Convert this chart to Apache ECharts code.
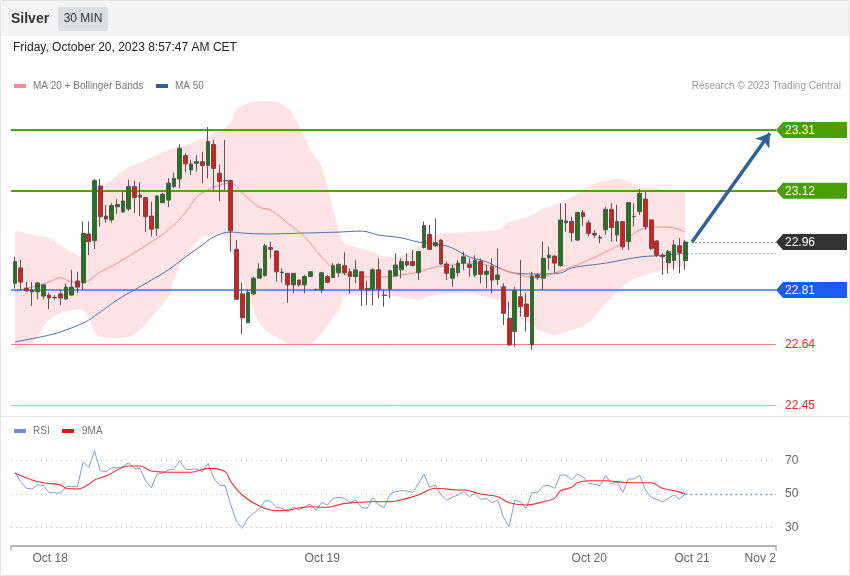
<!DOCTYPE html>
<html>
<head>
<meta charset="utf-8">
<script src="https://cdn.jsdelivr.net/npm/echarts@6/dist/echarts.min.js"></script>
<style>
html,body{margin:0;padding:0;background:#fff;}
#c{width:850px;height:576px;}
</style>
</head>
<body>
<div id="c"></div>
<script>
// ---------- DATA ----------
const candleOpen = [22.831,22.879,22.816,22.810,22.804,22.791,22.794,22.786,22.798,22.782,22.794,22.838,22.832,22.985,22.964,23.135,23.041,23.029,23.070,23.054,23.063,23.133,23.100,23.099,23.041,23.003,23.083,23.091,23.133,23.157,23.230,23.185,23.206,23.211,23.199,23.265,23.175,23.152,23.152,22.937,22.798,22.708,22.798,22.847,22.855,22.943,22.932,22.866,22.862,22.826,22.841,22.826,22.852,22.812,22.810,22.852,22.849,22.864,22.886,22.867,22.852,22.867,22.815,22.812,22.873,22.794,22.813,22.854,22.873,22.899,22.899,22.864,22.943,22.984,22.948,22.966,22.891,22.847,22.864,22.894,22.890,22.857,22.899,22.859,22.883,22.843,22.820,22.722,22.680,22.789,22.766,22.638,22.857,22.847,22.911,22.916,22.886,23.026,23.024,22.966,23.052,23.020,22.987,22.972,22.998,23.062,22.982,23.024,22.961,23.039,23.055,23.094,23.029,22.963,22.919,22.895,22.902,22.948,22.902];
const candleClose = [22.899,22.835,22.807,22.804,22.832,22.826,22.785,22.787,22.785,22.819,22.819,22.819,22.987,22.961,23.152,23.039,23.032,23.074,23.077,23.088,23.133,23.099,23.106,23.039,23.000,23.104,23.109,23.144,23.159,23.253,23.204,23.204,23.211,23.199,23.274,23.190,23.149,23.151,22.995,22.781,22.723,22.802,22.847,22.876,22.948,22.937,22.867,22.864,22.826,22.862,22.826,22.852,22.867,22.811,22.864,22.834,22.886,22.890,22.864,22.852,22.873,22.812,22.810,22.873,22.812,22.793,22.870,22.888,22.899,22.888,22.886,22.930,23.011,22.937,22.958,22.891,22.862,22.878,22.894,22.914,22.880,22.902,22.859,22.869,22.841,22.857,22.737,22.638,22.808,22.758,22.727,22.854,22.850,22.909,22.919,22.894,23.029,23.020,22.989,23.052,23.039,22.987,22.982,22.975,23.062,23.005,23.024,22.945,23.083,23.040,23.112,23.008,22.940,22.919,22.914,22.930,22.951,22.927,22.960];
const candleLow = [22.815,22.810,22.805,22.760,22.781,22.781,22.750,22.779,22.763,22.779,22.792,22.800,22.810,22.919,22.938,23.008,23.020,23.020,23.048,23.052,23.057,23.050,23.041,22.992,22.977,22.979,23.081,23.069,23.128,23.128,23.177,23.169,23.180,23.144,23.159,23.123,23.088,23.123,22.930,22.779,22.672,22.706,22.794,22.846,22.852,22.909,22.836,22.833,22.770,22.800,22.820,22.800,22.851,22.809,22.800,22.831,22.847,22.850,22.857,22.798,22.831,22.760,22.763,22.763,22.784,22.758,22.784,22.852,22.847,22.883,22.885,22.841,22.940,22.936,22.945,22.888,22.841,22.820,22.852,22.873,22.852,22.850,22.831,22.815,22.800,22.826,22.701,22.636,22.633,22.727,22.680,22.623,22.841,22.810,22.873,22.862,22.883,22.992,22.961,22.963,23.010,22.977,22.972,22.956,22.982,22.961,22.961,22.935,22.935,23.008,23.045,22.998,22.935,22.914,22.857,22.862,22.873,22.862,22.873];
const candleHigh = [22.914,22.904,22.836,22.835,22.835,22.828,22.802,22.794,22.810,22.831,22.873,22.867,23.024,23.024,23.157,23.157,23.076,23.081,23.094,23.117,23.154,23.152,23.147,23.100,23.086,23.106,23.114,23.159,23.177,23.265,23.237,23.216,23.232,23.242,23.319,23.279,23.201,23.279,23.155,22.966,22.833,22.812,22.852,22.894,22.954,22.961,22.933,22.878,22.863,22.863,22.842,22.857,22.868,22.814,22.867,22.857,22.894,22.894,22.928,22.878,22.904,22.868,22.839,22.878,22.909,22.810,22.873,22.925,22.909,22.925,22.935,22.931,23.024,23.013,23.034,22.969,22.899,22.888,22.904,22.930,22.909,22.919,22.909,22.888,22.909,22.940,22.831,22.774,22.820,22.904,22.800,22.867,22.862,22.961,22.945,22.919,23.081,23.081,23.039,23.055,23.060,23.029,22.998,22.982,23.070,23.081,23.076,23.025,23.086,23.081,23.125,23.117,23.030,22.966,22.925,22.935,22.966,22.972,22.966];

const bandIdx   = [0,3,6,8,10,12,13,14,15,17,20,22,24,27,28,30,33,35,36,37,38,39,41,43,44,46,48,49,51,52,54,57,58,62,65,68,71,74,80,83,85,86,87,89,91,92,93,95,98,101,103,104,106,108,110,113,116,118];
const bandUpper = [22.988,22.982,22.973,22.951,22.929,22.916,22.966,23.054,23.123,23.154,23.194,23.207,23.223,23.248,23.254,23.263,23.282,23.301,23.307,23.316,23.335,23.373,23.394,23.401,23.401,23.398,23.379,23.357,23.288,23.248,23.194,22.998,22.957,22.935,22.916,22.916,22.944,22.982,22.991,22.994,22.998,23.010,23.023,23.032,23.044,23.054,23.066,23.076,23.101,23.132,23.148,23.151,23.157,23.148,23.132,23.129,23.119,23.113];
const bandLower = [22.622,22.644,22.716,22.738,22.747,22.747,22.722,22.679,22.663,22.660,22.663,22.685,22.726,22.788,22.841,22.919,22.976,22.988,22.991,22.976,22.935,22.894,22.788,22.707,22.685,22.663,22.644,22.638,22.638,22.638,22.676,22.747,22.788,22.794,22.791,22.788,22.779,22.794,22.801,22.788,22.779,22.773,22.747,22.722,22.701,22.685,22.679,22.669,22.685,22.707,22.747,22.769,22.804,22.835,22.851,22.866,22.879,22.888];

const ma20Idx = [0,3,6,8,10,12,15,18,21,24,27,30,32,34,35,38,40,43,45,48,51,54,57,59,62,65,68,71,74,77,80,83,86,89,92,95,98,101,104,107,110,113,116,118];
const ma20Val = [22.805,22.819,22.835,22.848,22.835,22.835,22.866,22.894,22.926,22.960,22.998,23.051,23.101,23.123,23.132,23.144,23.113,23.069,23.060,23.019,22.976,22.913,22.866,22.857,22.851,22.851,22.857,22.866,22.882,22.888,22.894,22.888,22.873,22.857,22.848,22.863,22.882,22.904,22.929,22.957,22.998,23.007,23.004,22.991];

const ma50Idx = [0,6,9,12,13,15,18,21,24,27,30,33,35,38,40,44,51,57,61,64,68,71,75,77,80,83,86,88,92,96,98,104,110,115,118];
const ma50Val = [22.648,22.669,22.685,22.707,22.716,22.741,22.779,22.810,22.841,22.873,22.913,22.951,22.976,22.991,22.988,22.985,22.988,22.991,22.994,22.982,22.973,22.960,22.951,22.941,22.913,22.898,22.873,22.863,22.860,22.863,22.879,22.894,22.913,22.919,22.926];

const rsiVal = [63.0,57.3,53.4,53.0,55.4,55.0,50.8,50.8,50.4,54.4,54.4,54.4,69.3,65.9,75.7,63.9,63.3,65.7,65.7,66.3,68.7,65.3,65.3,57.8,53.8,61.8,62.4,64.3,64.9,69.9,64.7,64.7,64.9,63.3,68.3,59.4,55.4,55.0,43.4,33.5,29.5,35.5,38.5,40.9,46.0,45.8,42.1,41.5,39.4,42.2,40.4,42.4,43.9,40.4,45.0,43.4,47.4,48.0,47.4,45.0,46.4,41.8,41.5,47.8,43.4,42.1,50.0,51.4,52.0,51.8,51.0,56.0,61.9,54.0,55.4,49.4,46.4,48.0,49.4,51.4,48.4,50.4,46.8,47.4,44.8,46.4,36.1,30.5,46.4,45.2,41.5,50.8,50.8,54.8,55.1,53.4,61.3,61.3,58.4,61.9,60.3,56.4,55.8,55.0,60.9,56.0,57.3,50.8,59.0,59.0,60.9,52.4,48.0,46.8,45.4,47.4,49.4,47.0,50.0];
const rsiMaIdx = [0,3,5,8,9,11,13,14,16,20,22,24,27,31,34,37,38,40,43,46,48,50,52,55,58,63,66,69,71,74,78,79,82,85,87,90,93,95,96,98,99,101,104,107,109,112,114,116,118];
const rsiMaVal = [62.4,58.4,56.7,55.4,53.4,53.0,55.8,58.4,60.7,66.7,66.7,63.7,63.0,63.0,65.3,63.3,57.3,49.4,42.8,40.0,40.4,41.6,42.4,42.1,44.4,45.4,45.4,47.4,49.4,53.4,52.4,52.4,50.0,48.4,44.8,43.4,45.4,47.4,51.8,54.0,56.7,57.9,57.9,57.0,56.7,56.7,53.4,52.0,50.0];

const levelValues = [23.31, 23.12, 22.96, 22.81, 22.64, 22.45];
const levelLabels = ['23.31', '23.12', '22.96', '22.81', '22.64', '22.45'];
const rsiLevels = [70, 50, 30];
const xTickLabels = ['Oct 18', 'Oct 19', 'Oct 20', 'Oct 21', 'Nov 2'];
const xTickPos = [6.2, 54.1, 101.1, 119.2, 131.2];
const arrowStart = [119.2, 22.96];
const arrowEnd = [132.9, 23.30];

// ---------- BUILD ----------
const FONT = 'Liberation Sans, Arial, sans-serif';
const X_MIN = -0.704, X_MAX = 133.98;
const lastIdx = candleOpen.length - 1;
const pairs = (idx, vals) => idx.map((i, k) => [i, vals[k]]);
const candles = candleOpen.map((o, i) => [i, o, candleClose[i], candleLow[i], candleHigh[i]]);
const rsiData = rsiVal.map((v, i) => [i, v]);
const ma50Last = ma50Val[ma50Val.length - 1];

const chart = echarts.init(document.getElementById('c'), null, {renderer: 'canvas'});

const option = {
  animation: false,
  backgroundColor: '#ffffff',
  textStyle: {fontFamily: FONT},
  grid: [
    {left: 11, width: 765, top: 53.2, height: 358.4},
    {left: 11, width: 765, top: 443.75, height: 102.25}
  ],
  xAxis: [
    {type: 'value', gridIndex: 0, min: X_MIN, max: X_MAX, show: false},
    {type: 'value', gridIndex: 1, min: X_MIN, max: X_MAX,
      axisLine: {show: true, lineStyle: {color: '#b5b5b5', width: 2}},
      axisTick: {show: true, customValues: [X_MIN, X_MAX], length: 5, lineStyle: {color: '#b5b5b5', width: 1.5}},
      axisLabel: {show: true, customValues: xTickPos, color: '#666', fontSize: 12, margin: 7, fontFamily: FONT,
        formatter: function (v) {
          for (let k = 0; k < xTickPos.length; k++) if (Math.abs(xTickPos[k] - v) < 1e-6) return xTickLabels[k];
          return '';
        }},
      splitLine: {show: false}
    }
  ],
  yAxis: [
    {type: 'value', gridIndex: 0, min: 22.43, max: 23.55, show: false, scale: true},
    {type: 'value', gridIndex: 1, min: 18.96, max: 80, show: false}
  ],
  series: [
    {
      name: 'Bollinger', type: 'custom', xAxisIndex: 0, yAxisIndex: 0, z: 1, silent: true,
      data: [[bandIdx[0], bandUpper[0]]],
      renderItem: function (params, api) {
        const pts = [];
        for (let k = 0; k < bandIdx.length; k++) pts.push(api.coord([bandIdx[k], bandUpper[k]]));
        for (let k = bandIdx.length - 1; k >= 0; k--) pts.push(api.coord([bandIdx[k], bandLower[k]]));
        let minX = Infinity, minY = Infinity, maxX = -Infinity, maxY = -Infinity;
        pts.forEach(p => { minX = Math.min(minX, p[0]); maxX = Math.max(maxX, p[0]); minY = Math.min(minY, p[1]); maxY = Math.max(maxY, p[1]); });
        return {type: 'polygon', shape: {points: pts, smooth: 0.3, smoothConstraint: [[minX, minY], [maxX, maxY]]}, style: {fill: '#fde3e3'}};
      }
    },
    {
      name: 'MA 50', type: 'line', xAxisIndex: 0, yAxisIndex: 0, z: 4,
      data: pairs(ma50Idx, ma50Val), smooth: 0.4, symbol: 'none', silent: true,
      lineStyle: {color: '#4d6fb0', width: 1}
    },
    {
      name: 'MA 20', type: 'line', xAxisIndex: 0, yAxisIndex: 0, z: 4,
      data: pairs(ma20Idx, ma20Val), smooth: 0.4, symbol: 'none', silent: true,
      lineStyle: {color: '#f58a8a', width: 1}
    },
    {
      name: 'Silver', type: 'candlestick', xAxisIndex: 0, yAxisIndex: 0, z: 5,
      data: candles, barWidth: 4.2, silent: true,
      itemStyle: {color: '#157f15', color0: '#ee1515', borderColor: '#555555', borderColor0: '#555555', borderWidth: 1},
      markLine: {
        silent: true, symbol: ['none', 'none'], label: {show: false}, animation: false,
        data: [
          {yAxis: levelValues[0], lineStyle: {color: '#4ea30c', width: 2.2, type: 'solid'}},
          {yAxis: levelValues[1], lineStyle: {color: '#4ea30c', width: 2.2, type: 'solid'}},
          {yAxis: levelValues[3], lineStyle: {color: '#3a76f0', width: 1.6, type: 'solid'}},
          {yAxis: levelValues[4], lineStyle: {color: '#ff7f7f', width: 1, type: 'solid'}},
          {yAxis: levelValues[5], lineStyle: {color: '#ffa6a6', width: 1, type: 'solid'}},
          [{coord: [lastIdx + 0.4, levelValues[2]], lineStyle: {color: '#666', width: 1.2, type: [1, 3]}}, {coord: [X_MAX, levelValues[2]]}],
          [{coord: [lastIdx + 0.4, ma50Last], lineStyle: {color: '#6f8fd8', width: 1.2, type: [1, 3]}}, {coord: [X_MAX, ma50Last]}]
        ]
      }
    },
    {
      name: 'arrow', type: 'line', xAxisIndex: 0, yAxisIndex: 0, z: 6, data: [], silent: true,
      markLine: {
        silent: true, symbol: ['none', 'arrow'], symbolSize: 13, label: {show: false},
        data: [[{coord: arrowStart, lineStyle: {color: '#2f5f9f', width: 3.5, type: 'solid'}}, {coord: arrowEnd}]]
      }
    },
    {
      name: 'RSI', type: 'line', xAxisIndex: 1, yAxisIndex: 1, z: 4,
      data: rsiData, symbol: 'none', silent: true,
      lineStyle: {color: '#7d9ceb', width: 1},
      markLine: {
        silent: true, symbol: ['none', 'none'],
        data: rsiLevels.map(v => ({yAxis: v, lineStyle: {color: '#c2c2c2', width: 1, type: [1, 4]},
          label: {show: true, position: 'end', formatter: String(v), color: '#666', fontSize: 12, distance: 9, fontFamily: FONT}}))
          .concat([[{coord: [lastIdx, rsiVal[lastIdx]], lineStyle: {color: '#7d9ceb', width: 1.3, type: [2, 3]}, label: {show: false}}, {coord: [X_MAX, rsiVal[lastIdx]]}]])
      }
    },
    {
      name: '9MA', type: 'line', xAxisIndex: 1, yAxisIndex: 1, z: 5,
      data: pairs(rsiMaIdx, rsiMaVal), smooth: 0.35, symbol: 'none', silent: true,
      lineStyle: {color: '#ff2a2a', width: 1.1}
    }
  ]
};
chart.setOption(option);

// ---------- GRAPHICS (header, legends, price tags) ----------
const g = [];
g.push({type: 'rect', shape: {x: 0.5, y: 0.5, width: 849, height: 575}, style: {fill: 'none', stroke: '#e4e4e4', lineWidth: 1}, z: 0, silent: true});
g.push({type: 'rect', shape: {x: 1, y: 1, width: 848, height: 35}, style: {fill: '#f4f4f4'}, z: 0, silent: true});
g.push({type: 'text', x: 11, y: 19, style: {text: 'Silver', font: 'bold 14px ' + FONT, fill: '#333', verticalAlign: 'middle'}, silent: true});
g.push({type: 'rect', shape: {x: 58, y: 7, width: 50, height: 24, r: 2}, style: {fill: '#dcdee2'}, silent: true});
g.push({type: 'text', x: 83, y: 19, style: {text: '30 MIN', font: '12px ' + FONT, fill: '#333', align: 'center', verticalAlign: 'middle'}, silent: true});
g.push({type: 'text', x: 13, y: 48, style: {text: 'Friday, October 20, 2023 8:57:47 AM CET', font: '12px ' + FONT, fill: '#222', verticalAlign: 'middle'}, silent: true});
// price legend
g.push({type: 'rect', shape: {x: 14, y: 84, width: 12, height: 4}, style: {fill: '#ff8a8a'}, silent: true});
g.push({type: 'text', x: 33, y: 86.5, style: {text: 'MA 20 + Bollinger Bands', font: '10px ' + FONT, fill: '#777', verticalAlign: 'middle'}, silent: true});
g.push({type: 'rect', shape: {x: 156, y: 84, width: 12, height: 4}, style: {fill: '#2f5f9f'}, silent: true});
g.push({type: 'text', x: 175, y: 86.5, style: {text: 'MA 50', font: '10px ' + FONT, fill: '#777', verticalAlign: 'middle'}, silent: true});
g.push({type: 'text', x: 841, y: 86.5, style: {text: 'Research \u00A9 2023 Trading Central', font: '10px ' + FONT, fill: '#999', align: 'right', verticalAlign: 'middle'}, silent: true});
// separator
g.push({type: 'line', shape: {x1: 1, y1: 416.5, x2: 849, y2: 416.5}, style: {stroke: '#e6e6e6', lineWidth: 1}, silent: true});
// RSI legend
g.push({type: 'rect', shape: {x: 14, y: 429, width: 12, height: 4}, style: {fill: '#6b8fe0'}, silent: true});
g.push({type: 'text', x: 33, y: 431.5, style: {text: 'RSI', font: '10px ' + FONT, fill: '#777', verticalAlign: 'middle'}, silent: true});
g.push({type: 'rect', shape: {x: 62, y: 429, width: 12, height: 4}, style: {fill: '#ee1111'}, silent: true});
g.push({type: 'text', x: 82, y: 431.5, style: {text: '9MA', font: '10px ' + FONT, fill: '#777', verticalAlign: 'middle'}, silent: true});

// price tags
const tagFill = ['#4aa002', '#4aa002', '#333333', '#1c5cf2', null, null];
levelValues.forEach((v, k) => {
  const y = chart.convertToPixel({yAxisIndex: 0}, v);
  if (tagFill[k]) {
    g.push({type: 'polygon', shape: {points: [[776, y], [783, y - 8], [847, y - 8], [847, y + 8], [783, y + 8]]}, style: {fill: tagFill[k]}, silent: true});
    g.push({type: 'text', x: 785, y: y + 0.5, style: {text: levelLabels[k], font: '12px ' + FONT, fill: '#fff', verticalAlign: 'middle'}, silent: true});
  } else {
    g.push({type: 'text', x: 785, y: y + 0.5, style: {text: levelLabels[k], font: '12px ' + FONT, fill: '#ff2020', verticalAlign: 'middle'}, silent: true});
  }
});
chart.setOption({graphic: g});
</script>
</body>
</html>
